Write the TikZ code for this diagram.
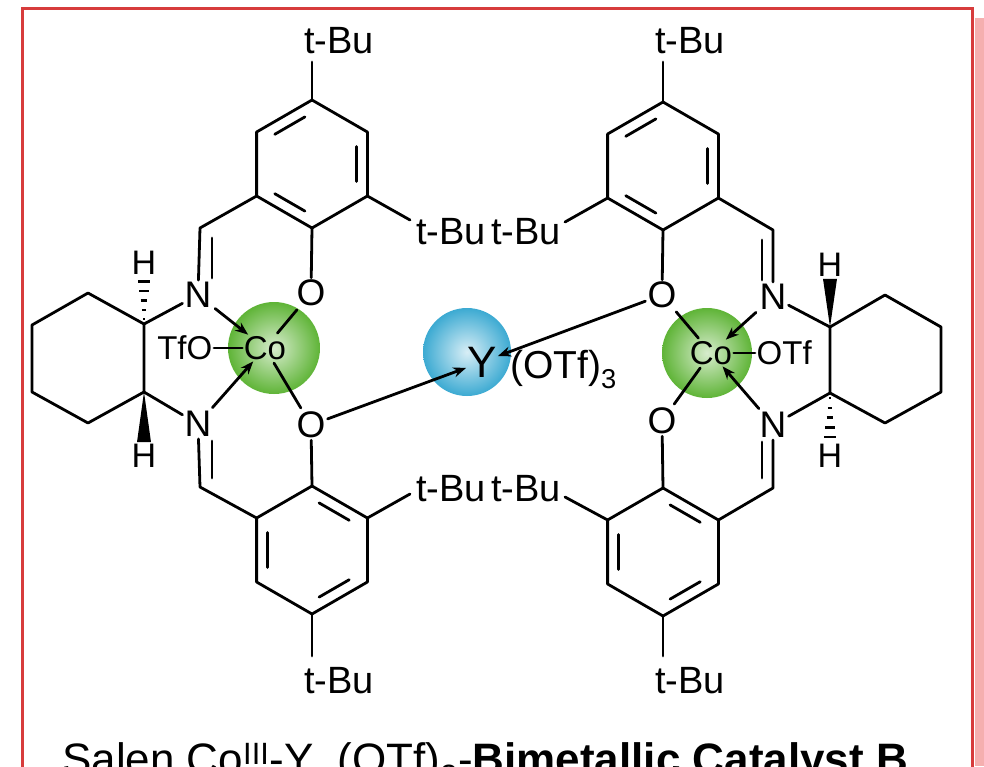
\documentclass[tikz,border=0pt]{standalone}
\usepackage{fontspec}
\setmainfont{Liberation Sans}
\usetikzlibrary{calc,arrows.meta}
\definecolor{cogreen}{RGB}{95,180,55}
\definecolor{yblue}{RGB}{60,170,210}
\definecolor{frame}{RGB}{215,60,60}
\definecolor{strip}{RGB}{245,175,175}
\newcommand\benz[3]{%
 \coordinate (#1c) at (#2,#3);
 \coordinate (#1T) at (#2,{#3-64});
 \coordinate (#1UR) at ({#2+55.4},{#3-32});
 \coordinate (#1LR) at ({#2+55.4},{#3+32});
 \coordinate (#1B) at (#2,{#3+64});
 \coordinate (#1LL) at ({#2-55.4},{#3+32});
 \coordinate (#1UL) at ({#2-55.4},{#3-32});
 \draw[bond] (#1T)--(#1UR)--(#1LR)--(#1B)--(#1LL)--(#1UL)--cycle;}
\newcommand\dbl[3]{\draw[bond] ($(#1)!0.16!(#2)!0.2!(#3)$) -- ($(#2)!0.16!(#1)!0.2!(#3)$);}
\begin{document}
\begin{tikzpicture}[x=1pt,y=-1pt,
 bond/.style={line width=2.8pt,line cap=round,line join=round},
 arr/.style={bond,-{Stealth[length=13pt,width=10pt]}},
 atom/.style={inner sep=2pt,font=\fontsize{37}{37}\selectfont},
 hatom/.style={inner sep=2pt,font=\fontsize{34}{34}\selectfont},
 colab/.style={inner sep=1.5pt,font=\fontsize{33}{33}\selectfont},
 tbu/.style={inner sep=0pt,font=\fontsize{38}{38}\selectfont},
 ball/.style={circle,minimum size=92pt,inner sep=0pt}]
\useasboundingbox (0,0) rectangle (984,766);
\fill[white] (0,0) rectangle (984,766);
\fill[strip] (975,18) rectangle (984,766);
\draw[frame,line width=3pt] (22,780) -- (22,8) -- (972,8) -- (972,780);

% rings
\benz{A}{312}{164}
\dbl{AT}{AUL}{Ac}\dbl{AUR}{ALR}{Ac}\dbl{ALL}{AB}{Ac}
\benz{B}{663}{166}
\dbl{BT}{BUL}{Bc}\dbl{BUR}{BLR}{Bc}\dbl{BLL}{BB}{Bc}
\benz{C}{312}{550}
\dbl{CT}{CUR}{Cc}\dbl{CUL}{CLL}{Cc}\dbl{CLR}{CB}{Cc}
\benz{D}{663}{552}
\dbl{DT}{DUR}{Dc}\dbl{DUL}{DLL}{Dc}\dbl{DLR}{DB}{Dc}

% t-Bu groups
\coordinate (ta) at (312,62); \draw[bond] (AT)--(ta);
\node[tbu,anchor=base west] (tA) at (304,53) {t-Bu};
\coordinate (tb) at (663,62); \draw[bond] (BT)--(tb);
\node[tbu,anchor=base west] (tB) at (655,53) {t-Bu};
\coordinate (tc) at (312,656); \draw[bond] (CB)--(tc);
\node[tbu,anchor=base west] (tC) at (304,693) {t-Bu};
\coordinate (td) at (663,656); \draw[bond] (DB)--(td);
\node[tbu,anchor=base west] (tD) at (655,693) {t-Bu};
\coordinate (sa) at (410,220); \draw[bond] (ALR)--(sa);
\node[tbu,anchor=base west] (sA) at (416,244) {t-Bu};
\coordinate (sb) at (565,222); \draw[bond] (BLL)--(sb);
\node[tbu,anchor=base east] (sB) at (561,244) {t-Bu};
\coordinate (sc) at (410,494); \draw[bond] (CUR)--(sc);
\node[tbu,anchor=base west] (sC) at (416,501) {t-Bu};
\coordinate (sd) at (565,497); \draw[bond] (DUL)--(sd);
\node[tbu,anchor=base east] (sD) at (561,501) {t-Bu};

% spheres
\node[ball,inner color=cogreen!25!white,outer color=cogreen] (g1) at (274,348) {};
\node[ball,inner color=cogreen!25!white,outer color=cogreen,minimum size=90pt] (g2) at (707,353) {};
\node[ball,inner color=yblue!20!white,outer color=yblue,minimum size=88pt] (g3) at (467,352) {};

% atoms
\node[atom] (O1) at (311,293) {O};
\node[atom] (O2) at (311,425) {O};
\node[atom] (O3) at (662,295) {O};
\node[atom] (O4) at (662,421) {O};
\node[atom] (N1) at (198,295) {N};
\node[atom] (N2) at (198,424) {N};
\node[atom] (N3) at (773,297) {N};
\node[atom] (N4) at (773,425) {N};
\node[colab] (Co1) at (265,348) {Co};
\node[colab,anchor=east] (Tf1) at (214,348) {TfO};
\node[colab] (Co2) at (711,353) {Co};
\node[colab,anchor=west] (Tf2) at (755,353) {OTf};
\node[inner sep=1pt,font=\fontsize{44}{44}\selectfont] (Y) at (482,362) {Y};
\node[inner sep=0pt,font=\fontsize{39}{39}\selectfont,anchor=base west] (OTf3) at (510,378) {(OTf)\textsubscript{3}};

% phenoxide bonds
\draw[bond] (AB)--(O1); \draw[bond] (CT)--(O2);
\draw[bond] (BB)--(O3); \draw[bond] (DT)--(O4);
% imines
\coordinate (ia) at (200,228); \draw[bond] (ALL)--(ia)--(N1);
\draw[bond] (212,238)--(212,278);
\coordinate (ic) at (200,487); \draw[bond] (CUL)--(ic)--(N2);
\draw[bond] (212,478)--(212,441);
\coordinate (ib) at (773,230); \draw[bond] (BLR)--(ib)--(N3);
\draw[bond] (762,240)--(762,280);
\coordinate (id) at (773,488); \draw[bond] (DUR)--(id)--(N4);
\draw[bond] (762,478)--(762,442);

% cyclohexanes
\coordinate (c1) at (144,324); \coordinate (c2) at (144,392);
\coordinate (c3) at (88,423); \coordinate (c4) at (32,392);
\coordinate (c5) at (32,325); \coordinate (c6) at (88,293);
\draw[bond] (c1)--(c2)--(c3)--(c4)--(c5)--(c6)--cycle;
\coordinate (d1) at (830,327); \coordinate (d2) at (830,393);
\coordinate (d3) at (885,423); \coordinate (d4) at (941,392);
\coordinate (d5) at (941,327); \coordinate (d6) at (885,295);
\draw[bond] (d1)--(d2)--(d3)--(d4)--(d5)--(d6)--cycle;
\draw[bond] (c1)--(N1); \draw[bond] (c2)--(N2);
\draw[bond] (d1)--(N3); \draw[bond] (d2)--(N4);
\node[hatom] (H1) at (144,263) {H};
\node[hatom] (H2) at (144,456) {H};
\node[hatom] (H3) at (830,265) {H};
\node[hatom] (H4) at (830,456) {H};
% hashed wedges
\foreach \t/\w in {0.1/1,0.3/2.2,0.5/3.4,0.7/4.6,0.9/5.8}{
 \draw[line width=2.4pt] ($(c1)!\t!(H1.south)+(-\w,0)$) -- ($(c1)!\t!(H1.south)+(\w,0)$);
 \draw[line width=2.4pt] ($(d2)!\t!(H4.north)+(-\w,0)$) -- ($(d2)!\t!(H4.north)+(\w,0)$);}
% solid wedges
\fill (c2) -- ([xshift=-7pt]H2.north) -- ([xshift=7pt]H2.north) -- cycle;
\fill (d1) -- ([xshift=-7pt]H3.south) -- ([xshift=7pt]H3.south) -- cycle;

% coordination
\draw[bond] (Tf1)--(Co1); \draw[bond] (Co2)--(Tf2);
\draw[bond,shorten <=2pt,shorten >=2pt] (Co1)--(O1);
\draw[bond,shorten <=2pt,shorten >=2pt] (Co1)--(O2);
\draw[bond,shorten <=2pt,shorten >=2pt] (Co2)--(O3);
\draw[bond,shorten <=2pt,shorten >=2pt] (Co2)--(O4);
\draw[arr,shorten <=2pt] (N1)--(Co1);
\draw[arr,shorten <=2pt] (N2)--(Co1);
\draw[arr,shorten <=2pt] (N3)--(Co2);
\draw[arr,shorten <=2pt] (N4)--(Co2);
\draw[arr] (O2)--(Y);
\draw[arr] (O3)--(Y);

% caption
\node[inner sep=0pt,anchor=base west,font=\fontsize{44}{44}\selectfont] (cap) at (62,774)
 {Salen Co\textsuperscript{III}-Y\ \ (OTf)\textsubscript{3}-\textbf{Bimetallic Catalyst B}};
\end{tikzpicture}
\end{document}
